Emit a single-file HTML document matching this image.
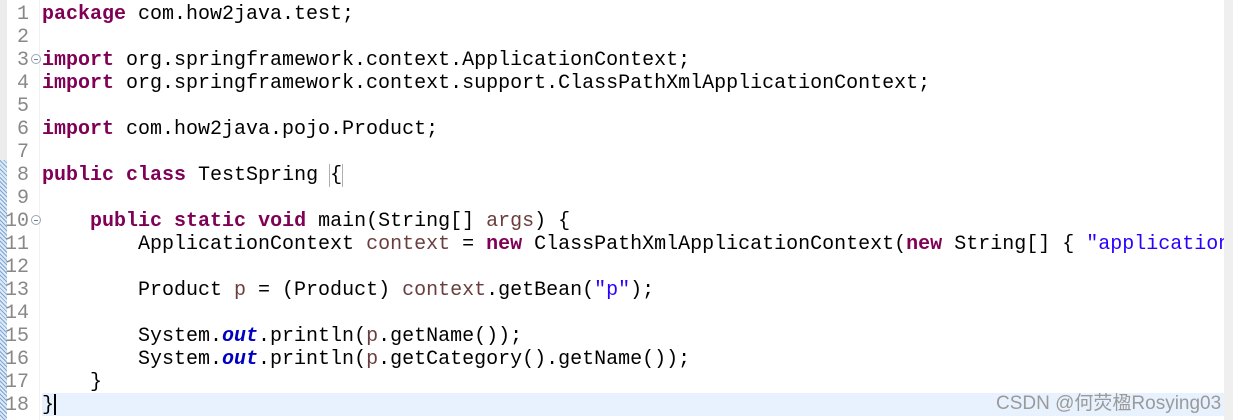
<!DOCTYPE html>
<html><head><meta charset="utf-8"><style>
html,body{margin:0;padding:0;}
body{width:1233px;height:420px;background:#fff;position:relative;overflow:hidden;font-family:"Liberation Mono",monospace;font-size:20px;}
.strip{position:absolute;left:0;top:0;width:7px;height:420px;background:#ececec;}
.dots{position:absolute;left:0;top:160px;width:7px;height:260px;background-image:repeating-linear-gradient(45deg,#7aa7d6 0 1px,#dfe9f5 1px 3px);}
.gline{position:absolute;left:39px;top:0;width:1px;height:420px;background:#f2f2f2;}
.cur{position:absolute;left:42px;top:393px;width:1182px;height:23px;background:#e8f2fe;}
.ln{position:absolute;left:0;width:29px;text-align:right;color:#888;height:23px;line-height:23px;top:1px;}
.cd{position:absolute;left:42px;width:1182px;overflow:hidden;height:23px;line-height:23px;white-space:pre;color:#000;}
.k{color:#7f0055;font-weight:bold;}
.s{color:#2a00ff;}
.f{color:#0000c0;font-weight:bold;font-style:italic;}
.v{color:#6a3e3e;}
.fold{position:absolute;left:31px;width:8px;height:8px;border:1px solid #9aa8b8;border-radius:50%;font-size:0;}
.fold:after{content:"";position:absolute;left:2px;top:3.5px;width:4px;height:1px;background:#6b7c90;}
.box{outline:1px solid #b0b0b0;}
.caret{position:absolute;left:54px;top:394px;width:2px;height:21px;background:#000;}
.wm{position:absolute;left:996px;top:388px;font-family:"Liberation Sans","Noto Sans CJK SC",sans-serif;font-size:19px;color:#9a9a9a;white-space:nowrap;}
</style></head><body>
<div class="strip"></div><div class="dots"></div><div class="gline"></div>
<div class="cur"></div>
<div class="ln" style="top:3px">1</div>
<div class="ln" style="top:26px">2</div>
<div class="ln" style="top:49px">3</div>
<div class="ln" style="top:72px">4</div>
<div class="ln" style="top:95px">5</div>
<div class="ln" style="top:118px">6</div>
<div class="ln" style="top:141px">7</div>
<div class="ln" style="top:164px">8</div>
<div class="ln" style="top:187px">9</div>
<div class="ln" style="top:210px">10</div>
<div class="ln" style="top:233px">11</div>
<div class="ln" style="top:256px">12</div>
<div class="ln" style="top:279px">13</div>
<div class="ln" style="top:302px">14</div>
<div class="ln" style="top:325px">15</div>
<div class="ln" style="top:348px">16</div>
<div class="ln" style="top:371px">17</div>
<div class="ln" style="top:394px">18</div>
<div class="fold" style="top:54px"></div>
<div class="fold" style="top:215px"></div>
<div class="cd" style="top:3px"><span class="k">package</span> com.how2java.test;</div>
<div class="cd" style="top:49px"><span class="k">import</span> org.springframework.context.ApplicationContext;</div>
<div class="cd" style="top:72px"><span class="k">import</span> org.springframework.context.support.ClassPathXmlApplicationContext;</div>
<div class="cd" style="top:118px"><span class="k">import</span> com.how2java.pojo.Product;</div>
<div class="cd" style="top:164px"><span class="k">public</span> <span class="k">class</span> TestSpring <span class="box">{</span></div>
<div class="cd" style="top:210px">    <span class="k">public</span> <span class="k">static</span> <span class="k">void</span> main(String[] <span class="v">args</span>) {</div>
<div class="cd" style="top:233px">        ApplicationContext <span class="v">context</span> = <span class="k">new</span> ClassPathXmlApplicationContext(<span class="k">new</span> String[] { <span class="s">"applicationContext.xml"</span> });</div>
<div class="cd" style="top:279px">        Product <span class="v">p</span> = (Product) <span class="v">context</span>.getBean(<span class="s">"p"</span>);</div>
<div class="cd" style="top:325px">        System.<span class="f">out</span>.println(<span class="v">p</span>.getName());</div>
<div class="cd" style="top:348px">        System.<span class="f">out</span>.println(<span class="v">p</span>.getCategory().getName());</div>
<div class="cd" style="top:371px">    }</div>
<div class="cd" style="top:394px">}</div>
<div class="caret"></div>
<div style="position:absolute;left:1224px;top:0;width:9px;height:420px;background:#efefef;"></div>
<div class="wm">CSDN @何荧楹Rosying03</div>
</body></html>
